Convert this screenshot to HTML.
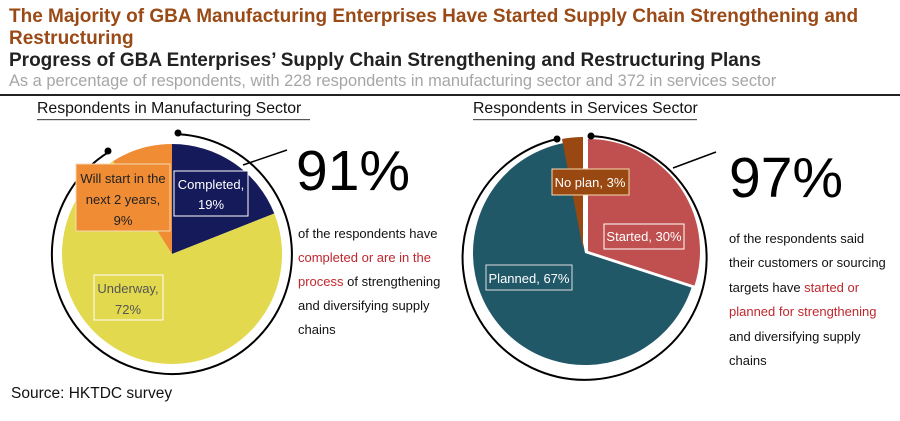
<!DOCTYPE html>
<html><head><meta charset="utf-8"><style>
body{margin:0;width:900px;height:416px;overflow:hidden;background:#fff;font-family:"Liberation Sans",Arial,sans-serif}
</style></head><body>
<svg width="900" height="416" viewBox="0 0 900 416" xmlns="http://www.w3.org/2000/svg" font-family="Liberation Sans, Arial, sans-serif">
<text x="9" y="22" font-size="19" font-weight="bold" fill="#9a4a16">The Majority of GBA Manufacturing Enterprises Have Started Supply Chain Strengthening and</text>
<text x="9" y="44" font-size="19" font-weight="bold" fill="#9a4a16">Restructuring</text>
<text x="9" y="66" font-size="19" font-weight="bold" fill="#222">Progress of GBA Enterprises’ Supply Chain Strengthening and Restructuring Plans</text>
<text x="9" y="86" font-size="16.4" fill="#a6a6a6">As a percentage of respondents, with 228 respondents in manufacturing sector and 372 in services sector</text>
<rect x="0" y="94" width="900" height="2" fill="#222"/>

<g font-size="15.8" fill="#111">
<text x="37" y="113">Respondents in Manufacturing Sector</text>
<rect x="37" y="119" width="273" height="1.2" fill="#555"/>
<text x="473" y="113">Respondents in Services Sector</text>
<rect x="473" y="119" width="224" height="1.2" fill="#555"/>
</g>

<!-- left pie -->
<path d="M172,254 L172,144 A110,110 0 0 1 274.3,213.5 Z" fill="#141a5a"/>
<path d="M172,254 L274.3,213.5 A110,110 0 1 1 113.1,161.1 Z" fill="#e2d94f"/>
<path d="M172,254 L113.1,161.1 A110,110 0 0 1 172,144 Z" fill="#f08c34"/>
<path d="M178.3,134.2 A120,120 0 1 1 108.4,152.2" fill="none" stroke="#000" stroke-width="2"/>
<circle cx="178" cy="133" r="3.5"/><circle cx="108" cy="151" r="3.5"/>
<line x1="243" y1="165" x2="287" y2="150" stroke="#000" stroke-width="1.5"/>
<rect x="76" y="164" width="94" height="67" fill="#f08c34" stroke="#f5d9b0" stroke-width="1"/>
<g font-size="13" fill="#222" text-anchor="middle">
<text x="123" y="183">Will start in the</text><text x="123" y="204">next 2 years,</text><text x="123" y="225">9%</text>
</g>
<rect x="174" y="171" width="74" height="45" fill="#141a5a" stroke="#fff" stroke-width="1"/>
<g font-size="13" fill="#fff" text-anchor="middle"><text x="211" y="189">Completed,</text><text x="211" y="209">19%</text></g>
<rect x="94" y="275" width="69" height="45" fill="#e2d94f" stroke="#fff" stroke-width="1"/>
<g font-size="13" fill="#555" text-anchor="middle"><text x="128" y="293">Underway,</text><text x="128" y="314">72%</text></g>

<text x="296" y="190" font-size="57" fill="#000">91%</text>
<g font-size="13" fill="#111">
<text x="298" y="238">of the respondents have</text>
<text x="298" y="262"><tspan fill="#c0272d">completed or are in the</tspan></text>
<text x="298" y="286"><tspan fill="#c0272d">process</tspan> of strengthening</text>
<text x="298" y="310">and diversifying supply</text>
<text x="298" y="334">chains</text>
</g>

<!-- right pie -->
<path d="M588,251 L588,139 A112,112 0 0 1 694.5,285.6 Z" fill="#c0504f"/>
<path d="M585,253 L691.5,287.6 A112,112 0 1 1 564,143 Z" fill="#215868"/>
<path d="M583,249 L562,139 A112,112 0 0 1 583,137 Z" fill="#984810"/>
<path d="M591,136 A122,122 0 1 1 557,139" fill="none" stroke="#000" stroke-width="2"/>
<circle cx="591" cy="136" r="3.5"/><circle cx="557" cy="139" r="3.5"/>
<line x1="673" y1="168" x2="716" y2="152" stroke="#000" stroke-width="1.5"/>
<rect x="552" y="169" width="77" height="26" fill="#984810" stroke="#f5d9b0" stroke-width="1"/>
<text x="590" y="187" font-size="13" fill="#fff" text-anchor="middle">No plan, 3%</text>
<rect x="604" y="224" width="80" height="25" fill="#c0504f" stroke="#fff" stroke-width="1"/>
<text x="644" y="241" font-size="13" fill="#fff" text-anchor="middle">Started, 30%</text>
<rect x="486" y="265" width="86" height="25" fill="#215868" stroke="#ddd" stroke-width="1"/>
<text x="529" y="283" font-size="13" fill="#fff" text-anchor="middle">Planned, 67%</text>

<text x="729" y="197" font-size="57" fill="#000">97%</text>
<g font-size="13" fill="#111">
<text x="729" y="243">of the respondents said</text>
<text x="729" y="267">their customers or sourcing</text>
<text x="729" y="292">targets have <tspan fill="#c0272d">started or</tspan></text>
<text x="729" y="316"><tspan fill="#c0272d">planned for strengthening</tspan></text>
<text x="729" y="341">and diversifying supply</text>
<text x="729" y="365">chains</text>
</g>

<text x="11" y="398" font-size="15.5" fill="#111">Source: HKTDC survey</text>
</svg>
</body></html>
